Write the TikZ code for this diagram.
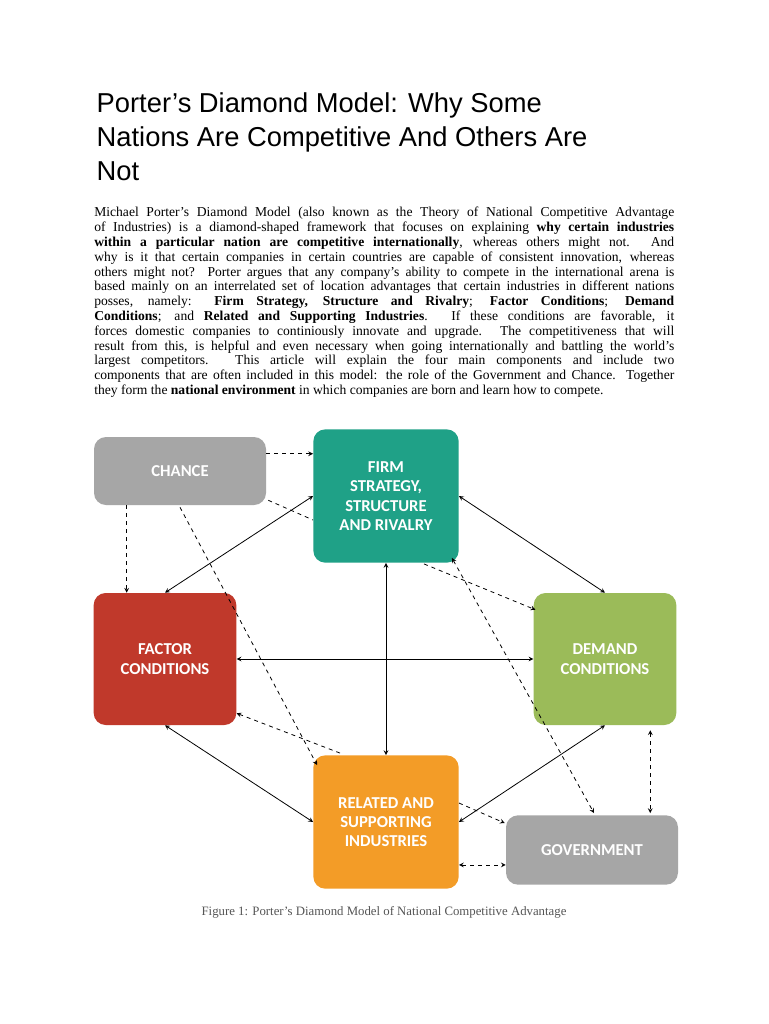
\documentclass[tikz,border=0pt]{standalone}
\usepackage{fontspec}
\setmainfont{Liberation Serif}
\setsansfont{Liberation Sans}
\newfontfamily\boxfont{Carlito}
\usetikzlibrary{arrows,calc,shadows.blur}
\definecolor{chancegray}{HTML}{A6A6A6}
\definecolor{firmteal}{HTML}{1FA187}
\definecolor{factorred}{HTML}{C0392B}
\definecolor{demandgreen}{HTML}{9BBB59}
\definecolor{relatedorange}{HTML}{F39C27}
\definecolor{captiongray}{HTML}{555555}
\tikzset{
	box/.style={
			draw=none, rounded corners=9pt, text=white, align=center,
			font=\boxfont\bfseries\fontsize{12.5}{14.5}\selectfont, inner sep=2pt
		},
	solidlink/.style={<->, >=stealth, semithick},
	dashlink/.style={->, >=stealth, semithick, dashed}
}

\begin{document}
\begin{tikzpicture}[x=0.75pt, y=-0.75pt]
			\useasboundingbox[fill=white] (0,0) rectangle (768,1024);

			\node[anchor=north west, align=left, font=\sffamily\fontsize{20.5}{25.5}\selectfont] (title) at (92,88)
				{Porter’s Diamond Model: Why Some\\Nations Are Competitive And Others Are\\Not};

			\node[anchor=north west, text width=435pt, align=justify, inner sep=0pt,
				font=\fontsize{10.2}{11.1}\selectfont] (intro) at (94,207)
				{Michael Porter’s Diamond Model (also known as the Theory of National Competitive Advantage\linebreak
				of Industries) is a diamond-shaped framework that focuses on explaining \textbf{why certain industries}\linebreak
				\textbf{within a particular nation are competitive internationally}, whereas others might not. And\linebreak
				why is it that certain companies in certain countries are capable of consistent innovation, whereas\linebreak
				others might not? Porter argues that any company’s ability to compete in the international arena is\linebreak
				based mainly on an interrelated set of location advantages that certain industries in different nations\linebreak
				posses, namely: \textbf{Firm Strategy, Structure and Rivalry}; \textbf{Factor Conditions}; \textbf{Demand}\linebreak
				\textbf{Conditions}; and \textbf{Related and Supporting Industries}. If these conditions are favorable, it\linebreak
				forces domestic companies to continiously innovate and upgrade. The competitiveness that will\linebreak
				result from this, is helpful and even necessary when going internationally and battling the world’s\linebreak
				largest competitors. This article will explain the four main components and include two\linebreak
				components that are often included in this model: the role of the Government and Chance. Together\linebreak
				they form the \textbf{national environment} in which companies are born and learn how to compete.};

			% the six boxes
			\node[box, fill=chancegray, minimum width=129pt, minimum height=51pt] (chance) at (180,471) {CHANCE};
			\node[box, fill=firmteal, minimum width=109pt, minimum height=100pt] (firm) at (386,496) {FIRM\\STRATEGY,\\STRUCTURE\\AND RIVALRY};
			\node[box, fill=factorred, minimum width=107pt, minimum height=99pt] (factor) at (165,659) {FACTOR\\CONDITIONS};
			\node[box, fill=demandgreen, minimum width=107pt, minimum height=99pt] (demand) at (605,659) {DEMAND\\CONDITIONS};
			\node[box, fill=relatedorange, minimum width=109pt, minimum height=100pt] (related) at (386,822) {RELATED AND\\SUPPORTING\\INDUSTRIES};
			\node[box, fill=chancegray, minimum width=129pt, minimum height=52pt] (gov) at (592,850) {GOVERNMENT};

			% solid links of the diamond
			\draw[solidlink] (firm.west) to (factor.north);
			\draw[solidlink] (firm.east) to (demand.north);
			\draw[solidlink] (firm.south) to (related.north);
			\draw[solidlink] (factor.east) to (demand.west);
			\draw[solidlink] (factor.south) to (related.west);
			\draw[solidlink] (related.east) to (demand.south);

			% dashed links of chance and government
			\coordinate (c1) at ($(chance.north east)+(0,17)$);
			\draw[dashlink] (c1) to (firm.west |- c1);
			\draw[dashed, semithick] ($(chance.south east)+(2,-5)$) to ($(firm.west)+(0,24)$);
			\coordinate (c2) at ($(chance.south west)+(33,0)$);
			\draw[dashlink] (c2) to (factor.north west -| c2);
			\draw[dashlink] ($(chance.south)+(0,2)$) to ($(related.north west)+(4,10)$);
			\draw[dashlink] ($(firm.south)+(38,1)$) to ($(demand.north west)+(2,17)$);
			\draw[dashlink, <->] ($(firm.south east)+(-7,-5)$) to ($(gov.north)+(2,-2)$);
			\draw[dashlink] ($(related.north)+(-46,-2)$) to ($(factor.south east)+(0,-12)$);
			\draw[dashlink] ($(related.east)+(0,-19)$) to ($(gov.north west)+(-1,8)$);
			\coordinate (g1) at ($(gov.south west)+(0,-20)$);
			\draw[dashlink, <->] (related.east |- g1) to (g1);
			\coordinate (g2) at ($(gov.north east)+(-28,-2)$);
			\draw[dashlink, <->] (demand.south -| g2) ++(0,5) to (g2);

			\node[font=\fontsize{9.6}{11}\selectfont, text=captiongray] (caption) at (384,912)
				{Figure 1: Porter’s Diamond Model of National Competitive Advantage};
		\end{tikzpicture}
\end{document}
